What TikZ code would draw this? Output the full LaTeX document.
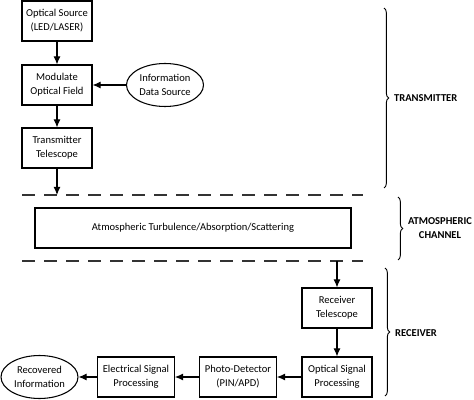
\documentclass[tikz,border=0pt]{standalone}
\usepackage{fontspec}
\setmainfont{Carlito}
\usetikzlibrary{positioning,arrows.meta,shapes.geometric,decorations.pathreplacing}

\tikzset{
  blockbox/.style={draw,line width=0.9pt,minimum width=2.1cm,minimum height=1.2cm,
    align=center,inner sep=1pt,font=\fontsize{9}{12}\selectfont},
  roundbox/.style={ellipse,draw,line width=0.9pt,minimum width=2.31cm,minimum height=1.29cm,
    align=center,inner sep=0pt,font=\fontsize{9}{12}\selectfont},
  flow/.style={-{Latex[length=7pt,width=6pt]},line width=0.9pt},
  border/.style={line width=1.4pt,black!80,dash pattern=on 0.39cm off 0.27cm},
  bracket/.style={decorate,decoration={brace,amplitude=4pt},line width=0.8pt},
  partlabel/.style={font=\fontsize{9}{12}\selectfont\bfseries,align=center}
}

\begin{document}
\begin{tikzpicture}[x=0.03cm,y=-0.03cm,>=latex]
\useasboundingbox (0,0) rectangle (474,400);

% transmitter side
\node[blockbox] (source) at (57,21) {Optical Source\\(LED/LASER)};
\node[blockbox] (modulate) at (57,85) {Modulate\\Optical Field};
\node[roundbox] (data) at (165,85) {Information\\Data Source};
\node[blockbox] (txTel) at (57,148) {Transmitter\\Telescope};

\draw[flow] (source) -- (modulate);
\draw[flow] (data) -- (modulate);
\draw[flow] (modulate) -- (txTel);

% channel, bounded by the two dashed lines
\coordinate (txEnd) at (57,195);
\coordinate (rxStart) at (337,261);
\draw[border] (22,195) -- (363,195);
\draw[border] (22,261) -- (363,261);
\node[blockbox,minimum width=9.48cm] (channel) at (193,228) {Atmospheric Turbulence/Absorption/Scattering};
\draw[flow] (txTel) -- (txEnd);

% receiver side
\node[blockbox] (rxTel) at (337,308) {Receiver\\Telescope};
\node[blockbox] (optProc) at (337,377) {Optical Signal\\Processing};
\node[blockbox,minimum width=2.3cm] (detector) at (238,377) {Photo-Detector\\(PIN/APD)};
\node[blockbox,minimum width=2.3cm] (elecProc) at (136,377) {Electrical Signal\\Processing};
\node[roundbox] (recovered) at (39.5,377) {Recovered\\Information};

\draw[flow] (rxStart) -- (rxTel);
\draw[flow] (rxTel) -- (optProc);
\draw[flow] (optProc) -- (detector);
\draw[flow] (detector) -- (elecProc);
\draw[flow] (elecProc) -- (recovered);

% braces on the right
\draw[bracket] (384,8) -- (384,188);
\node[partlabel,anchor=west] (txLabel) at (390,98) {TRANSMITTER};
\draw[bracket] (398,197) -- (398,260);
\node[partlabel] (chLabel) at (440,228) {ATMOSPHERIC\\CHANNEL};
\draw[bracket] (385,268) -- (385,396);
\node[partlabel,anchor=west] (rxLabel) at (391,333) {RECEIVER};
\end{tikzpicture}
\end{document}
